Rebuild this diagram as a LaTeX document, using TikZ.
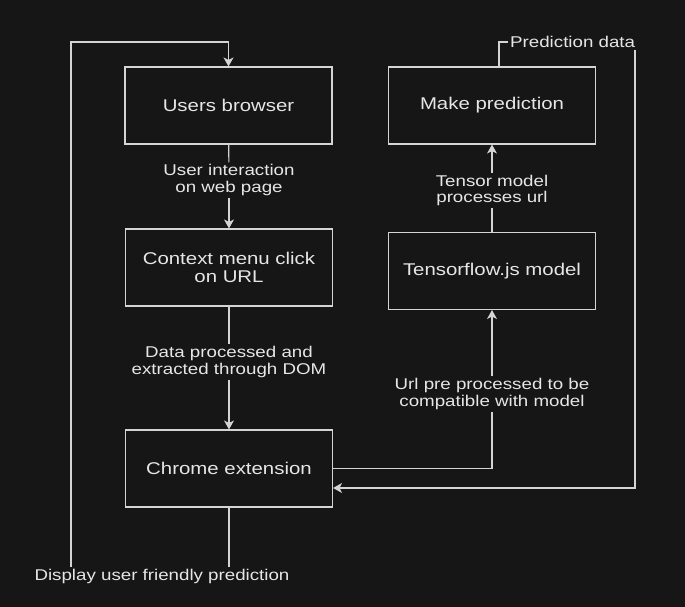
\documentclass[tikz,border=0pt]{standalone}
\usepackage{fontspec}
\setmainfont{Liberation Sans}[FakeStretch=1.2]
\usetikzlibrary{arrows.meta}
\definecolor{bgcol}{HTML}{161616}
\definecolor{linecol}{HTML}{D4D4D4}
\definecolor{textcol}{HTML}{E6E6E6}

\begin{document}
\begin{tikzpicture}[
    x=1pt, y=-1pt,
    every node/.style={text=textcol},
    box/.style={draw=linecol, line width=1.1pt, fill=bgcol, minimum width=207pt, minimum height=77pt,
        inner sep=0pt, align=center, font=\fontsize{17}{18}\selectfont},
    elab/.style={fill=bgcol, inner sep=2pt, align=center, font=\fontsize{15.6}{16.3}\selectfont},
    wire/.style={linecol, line width=1.2pt},
    arr/.style={wire, -{Stealth[length=9pt, width=10pt, inset=2.5pt]}},
]
% ---------------- canvas
\fill[bgcol] (0,0) rectangle (685,607);
\useasboundingbox (0,0) rectangle (685,607);

% ---------------- boxes
\node[box] (browser) at (228.5,105.5) {Users browser};
\node[box] (context) at (229,267.5) {Context menu click\\on URL};
\node[box] (chrome)  at (229,468.5) {Chrome extension};
\node[box] (predict) at (492,105.5) {Make prediction};
\node[box] (tfjs)    at (492,271)   {Tensorflow.js model};

% ---------------- edge labels
\node[elab] (lblInteract) at (229,180) {User interaction\\on web page};
\node[elab] (lblDom)      at (229,362) {Data processed and\\extracted through DOM};
\node[elab] (lblUrl)      at (492,394) {Url pre processed to be\\compatible with model};
\node[elab] (lblTensor)   at (492,190.5) {Tensor model\\processes url};
\node[elab, anchor=west] (lblPredData) at (508,42) {Prediction data};
\node[elab] (lblDisplay)  at (162,576) {Display user friendly prediction};

\coordinate (loopL) at (71,42);
\coordinate (predUp) at (499,42);
\coordinate (loopR) at (635,488);

% ---------------- main flow
\draw[wire] (browser) -- (lblInteract);
\draw[arr] (lblInteract) -- (context);
\draw[wire] (context) -- (lblDom);
\draw[arr] (lblDom) -- (chrome);

% ---------------- model side
\draw[wire] (chrome.east) -| (lblUrl.south);
\draw[arr] (lblUrl) -- (tfjs);
\draw[wire] (tfjs) -- (lblTensor);
\draw[arr] (lblTensor) -- (predict);

% ---------------- prediction back to the extension
\draw[wire] (predict.north -| predUp) -- (predUp) -- (lblPredData.west);
\draw[arr] (lblPredData.south -| loopR) -- (loopR) -- (chrome.east |- loopR);

% ---------------- result back to the browser
\draw[wire] (chrome.south) -- (chrome.south |- lblDisplay.north);
\draw[arr] (lblDisplay.north -| loopL) -- (loopL) -| (browser.north);
\end{tikzpicture}
\end{document}
